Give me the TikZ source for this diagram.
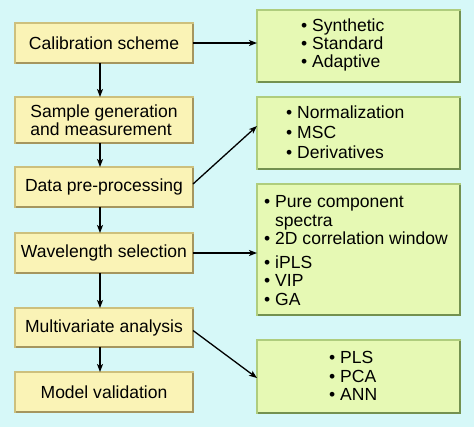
\documentclass[tikz,border=0pt]{standalone}
\usepackage{fontspec}
\setmainfont{Liberation Sans}
\usetikzlibrary{arrows.meta,calc}
\definecolor{bg}{RGB}{214,248,248}
\definecolor{lfill}{RGB}{250,243,182}
\definecolor{ledge}{RGB}{205,192,125}
\definecolor{lshadow}{RGB}{165,150,95}
\definecolor{rfill}{RGB}{230,249,180}
\definecolor{redge}{RGB}{175,205,125}
\definecolor{rshadow}{RGB}{115,145,80}
\begin{document}
\begin{tikzpicture}[x=1bp,y=-1bp,
  font=\fontsize{17.6}{18.5}\selectfont,
  lbox/.style={fill=lfill,draw=ledge,line width=1.5bp,minimum width=178bp,inner sep=0pt,outer sep=0pt,align=center},
  rbox/.style={fill=rfill,draw=redge,line width=1.5bp,minimum width=203bp,inner sep=0pt,outer sep=0pt},
  rtext/.style={inner sep=0pt,anchor=west,align=left},
  lsh/.style={draw=lshadow,line width=2bp},
  rsh/.style={draw=rshadow,line width=2bp},
  arr/.style={draw=black,line width=1.3bp,-{Stealth[length=8bp,width=6bp,inset=2bp]}}]
\fill[bg] (0,0) rectangle (474,427);
\useasboundingbox (0,0) rectangle (474,427);
% left column
\node[lbox,minimum height=40bp] (a1) at (104,43) {Calibration scheme};
\node[lbox,minimum height=46bp,align=left] (a2) at (104,120) {Sample generation\\and measurement};
\node[lbox,minimum height=40bp] (a3) at (104,187) {Data pre-processing};
\node[lbox,minimum height=40bp] (a4) at (104,253) {Wavelength selection};
\node[lbox,minimum height=39bp] (a5) at (104,327.5) {Multivariate analysis};
\node[lbox,minimum height=40bp] (a6) at (104,392) {Model validation};
% right column
\node[rbox,minimum height=72bp] (r1) at (358.5,46) {};
\node[rbox,minimum height=72bp] (r2) at (358.5,133) {};
\node[rbox,minimum height=131bp] (r3) at (358.5,249.5) {};
\node[rbox,minimum height=73bp] (r4) at (358.5,376.5) {};
% shading edges
\foreach \n in {a1,a2,a3,a4,a5,a6}
  \draw[lsh] ($(\n.south west)+(1,0)$) -- (\n.south east) -- ($(\n.north east)+(0,1)$);
\foreach \n in {r1,r2,r3,r4}
  \draw[rsh] ($(\n.south west)+(1,0)$) -- (\n.south east) -- ($(\n.north east)+(0,1)$);
% right texts
\node[rtext] (t1) at (301,45) {• Synthetic\\• Standard\\• Adaptive};
\node[rtext,font=\fontsize{17.6}{20}\selectfont] (t2) at (286,132.5) {• Normalization\\• MSC\\• Derivatives};
\node[rtext] (t3) at (264,250.5) {• Pure component\\\phantom{• }spectra\\• 2D correlation window\\[5bp]• iPLS\\• VIP\\• GA};
\node[rtext] (t4) at (329,376) {• PLS\\• PCA\\• ANN};
% arrows
\coordinate (ax) at (100,0);
\draw[arr] (a1.south -| ax) -- (a2.north -| ax);
\draw[arr] (a2.south -| ax) -- (a3.north -| ax);
\draw[arr] (a3.south -| ax) -- (a4.north -| ax);
\draw[arr] (a4.south -| ax) -- (a5.north -| ax);
\draw[arr] (a5.south -| ax) -- (a6.north -| ax);
\draw[arr] (a1.east) -- (a1.east -| r1.west);
\draw[arr] ($(a3.east)+(0,-3)$) -- ($(r2.west)+(0,-7)$);
\draw[arr] (a4.east) -- (a4.east -| r3.west);
\draw[arr] ($(a5.east)+(0,3)$) -- ($(r4.west)+(0,1.5)$);
\end{tikzpicture}
\end{document}
